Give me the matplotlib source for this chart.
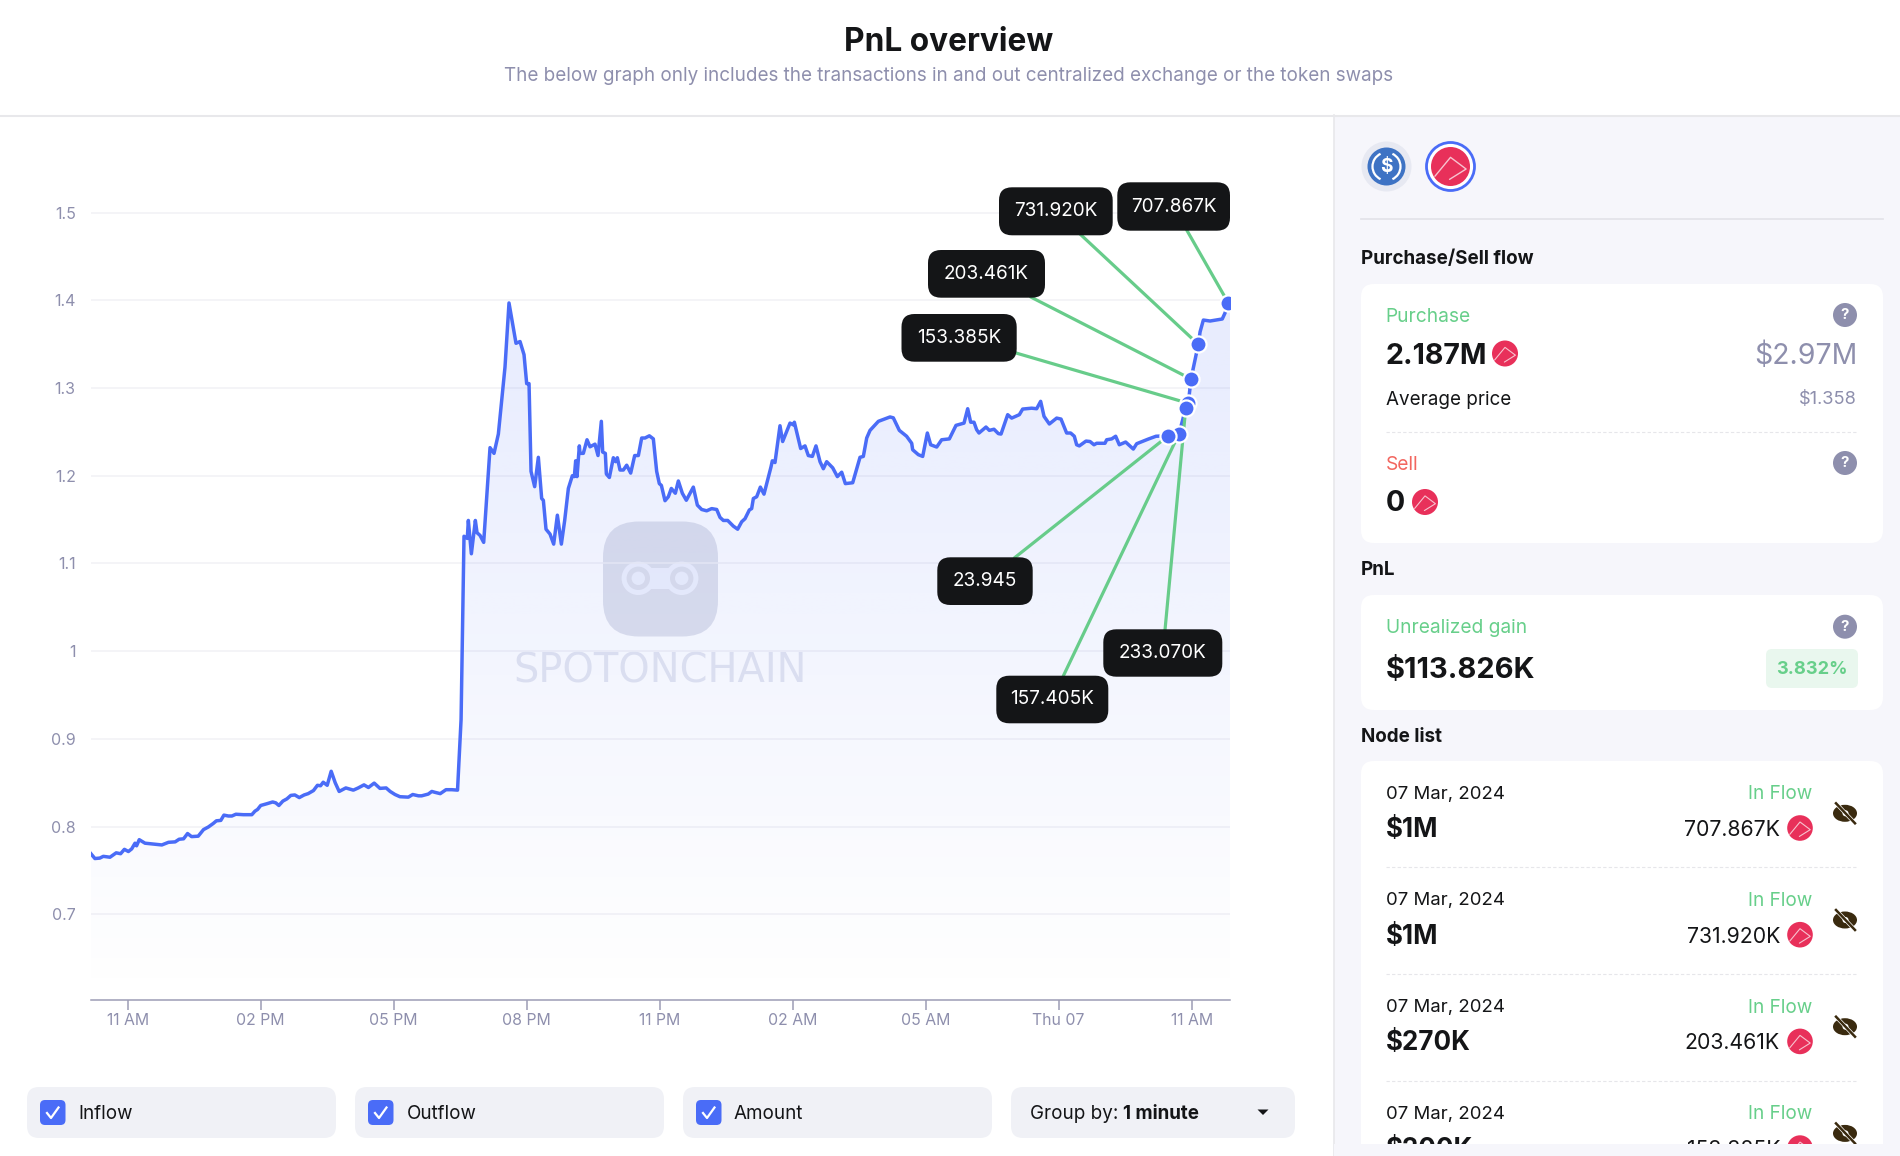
import numpy as np
import matplotlib
matplotlib.use("Agg")
import matplotlib.pyplot as plt
from matplotlib.patches import FancyBboxPatch, Circle, Rectangle, Arc, Ellipse, ConnectionPatch, Polygon

plt.rcParams['font.family'] = ['Inter', 'DejaVu Sans']

# ---------- data (hours counted from 11 AM on the first day, price in USD) ----------
hours = [
 -0.83,-0.74,-0.63,-0.55,-0.40,-0.26,-0.16,-0.075,0.015,0.09,0.165,0.2,0.26,0.39,0.58,0.77,0.92,1.07,1.16,1.26,
 1.35,1.44,1.59,1.71,1.82,1.93,2.0,2.1,2.17,2.27,2.35,2.44,2.61,2.8,2.87,2.93,3.0,3.14,3.27,3.34,
 3.41,3.5,3.59,3.68,3.77,3.87,3.98,4.07,4.19,4.28,4.35,4.41,4.5,4.59,4.68,4.77,4.92,5.09,5.2,5.33,
 5.43,5.56,5.69,5.83,5.92,6.03,6.14,6.33,6.43,6.56,6.63,6.78,6.86,6.93,7.05,7.18,7.31,7.44,7.52,7.57,
 7.586,7.66,7.684,7.752,7.842,7.88,7.947,8.03,8.173,8.263,8.361,8.436,8.511,8.601,8.759,8.85,8.94,9.0,9.053,9.098,
 9.18,9.263,9.338,9.376,9.436,9.526,9.609,9.692,9.782,9.857,9.94,10.03,10.075,10.105,10.135,10.188,10.203,10.278,10.361,10.429,
 10.541,10.609,10.684,10.714,10.774,10.797,10.865,10.955,11.008,11.045,11.105,11.18,11.256,11.346,11.436,11.519,11.594,11.669,11.767,11.857,
 11.932,11.992,12.038,12.12,12.195,12.263,12.353,12.421,12.511,12.601,12.759,12.85,12.947,13.06,13.173,13.286,13.361,13.436,13.534,13.662,
 13.759,13.85,13.925,14.023,14.075,14.113,14.188,14.271,14.353,14.511,14.541,14.601,14.714,14.774,14.94,15.015,15.038,15.18,15.278,15.353,
 15.444,15.526,15.617,15.692,15.767,15.903,16.008,16.106,16.188,16.354,16.519,16.594,16.67,16.745,16.933,17.196,17.27,17.406,17.57,17.685,
 17.707,17.835,17.933,18.038,18.113,18.249,18.361,18.534,18.684,18.865,18.948,19.015,19.09,19.15,19.203,19.361,19.436,19.541,19.64,19.7,
 19.85,19.94,20.113,20.188,20.39,20.504,20.594,20.67,20.79,20.955,21.053,21.18,21.27,21.353,21.406,21.466,21.617,21.707,21.797,21.857,
 22.045,22.083,22.196,22.286,22.368,22.511,22.684,22.76,23.023,23.196,23.474,23.715,23.866,23.925,23.985,24.15,24.19,24.264,24.415,24.69,
 24.752,24.827,24.865]
price = [
 .769,.7635,.764,.766,.765,.770,.769,.774,.7715,.7745,.781,.778,.785,.781,.780,.779,.782,.7825,.7855,.786,
 .792,.7885,.789,.7965,.7995,.8035,.8065,.807,.813,.812,.812,.814,.8135,.8135,.8175,.8195,.824,.826,.828,.827,
 .824,.829,.8315,.8355,.836,.833,.836,.8375,.841,.847,.8465,.8505,.847,.863,.85,.840,.844,.8415,.844,.8475,
 .8445,.8495,.8435,.844,.840,.8365,.834,.8335,.8365,.835,.835,.837,.840,.839,.8375,.842,.842,.8415,.922,1.081,
 1.131,1.1285,1.149,1.111,1.149,1.135,1.132,1.124,1.232,1.2255,1.2475,1.286,1.324,1.397,1.351,1.353,1.338,1.305,1.305,1.205,
 1.1875,1.221,1.174,1.172,1.139,1.1335,1.122,1.155,1.122,1.149,1.1855,1.2,1.199,1.217,1.199,1.234,1.2255,1.2255,1.241,1.233,
 1.236,1.223,1.262,1.227,1.2255,1.202,1.198,1.2205,1.216,1.2205,1.2065,1.2065,1.212,1.203,1.223,1.223,1.243,1.243,1.2455,1.242,
 1.205,1.191,1.189,1.1715,1.176,1.1855,1.18,1.194,1.18,1.172,1.187,1.1665,1.1615,1.16,1.1625,1.1615,1.1525,1.149,1.149,1.1425,
 1.139,1.1475,1.151,1.161,1.1625,1.174,1.176,1.187,1.179,1.21,1.217,1.215,1.257,1.239,1.26,1.258,1.261,1.231,1.234,1.223,
 1.222,1.234,1.216,1.208,1.216,1.209,1.199,1.204,1.191,1.192,1.221,1.222,1.243,1.2517,1.262,1.267,1.266,1.2517,1.245,1.237,
 1.2296,1.224,1.222,1.2487,1.2353,1.2327,1.241,1.242,1.2574,1.26,1.2764,1.261,1.261,1.2525,1.2487,1.2555,1.2517,1.253,1.248,1.2475,
 1.2696,1.2657,1.2696,1.276,1.277,1.2764,1.2848,1.2677,1.259,1.2657,1.2646,1.2487,1.2487,1.245,1.2353,1.234,1.2395,1.239,1.2353,1.237,
 1.237,1.241,1.242,1.245,1.2353,1.2384,1.2304,1.2365,1.2418,1.245,1.2456,1.2479,1.2769,1.2826,1.3103,1.3498,1.364,1.3775,1.3764,1.3787,
 1.3855,1.397,1.397]

y_ticks = [0.7, 0.8, 0.9, 1.0, 1.1, 1.2, 1.3, 1.4, 1.5]
y_labels = ['0.7', '0.8', '0.9', '1', '1.1', '1.2', '1.3', '1.4', '1.5']
x_ticks = [0, 3, 6, 9, 12, 15, 18, 21, 24]
x_labels = ['11 AM', '02 PM', '05 PM', '08 PM', '11 PM', '02 AM', '05 AM', 'Thu 07', '11 AM']

node_hours = [24.827, 24.15, 23.985, 23.925, 23.866, 23.715, 23.474]
node_prices = [1.397, 1.3498, 1.3103, 1.2826, 1.2769, 1.2479, 1.2456]
node_labels = ['707.867K', '731.920K', '203.461K', '153.385K', '233.070K', '157.405K', '23.945']

list_dates = ['07 Mar, 2024'] * 4
list_usd = ['$1M', '$1M', '$270K', '$200K']
list_amounts = ['707.867K', '731.920K', '203.461K', '153.385K']

# ---------- style ----------
W, H = 1900, 1156
BLUE = '#4A6CF7'
INK = '#141517'
GREY = '#8E8FAD'
GREEN = '#67CF8A'
SOFT = '#F6F6FB'
PX = 0.72

fig = plt.figure(figsize=(W / 100, H / 100), dpi=100, facecolor='white')

bg = fig.add_axes([0, 0, 1, 1], zorder=0)
bg.set_xlim(0, W); bg.set_ylim(H, 0); bg.axis('off')


def T(a, x, y, s, size, color=INK, weight='normal', ha='left', z=5, family=None):
    kw = {'family': family} if family else {}
    return a.text(x, y + 2, s, fontsize=size * PX, color=color, fontweight=weight, ha=ha,
                  va='center', zorder=z, **kw)


def RR(a, x0, y0, x1, y1, r, color, z=2, ec='none'):
    p = FancyBboxPatch((x0 + r, y0 + r), x1 - x0 - 2 * r, y1 - y0 - 2 * r,
                       boxstyle=f'round,pad={r},rounding_size={r}',
                       fc=color, ec=ec, lw=0, zorder=z)
    a.add_patch(p)
    return p


def red_icon(cx, cy, r, z=4):
    bg.add_patch(Circle((cx, cy), r, fc='#E8305A', ec='none', zorder=z))
    k = [(-0.80, 0.50), (0.0, -0.47), (0.80, 0.13), (-0.05, 0.66)]
    bg.plot([cx + a * r for a, _ in k], [cy + b * r for _, b in k], color='#F7C3CF',
            lw=1.0 if r > 15 else 0.8, zorder=z + 1, solid_capstyle='round')


def help_icon(cx, cy):
    bg.add_patch(Circle((cx, cy), 12, fc=GREY, ec='none', zorder=4))
    T(bg, cx, cy - 2, '?', 15, 'white', 'bold', ha='center')


def eye_icon(cx, cy):
    c = '#3A2A0F'
    bg.add_patch(Ellipse((cx, cy), 24, 17, fc=c, ec='none', zorder=4))
    bg.add_patch(Circle((cx + 0.5, cy), 3.0, fc='white', ec='none', zorder=5))
    bg.plot([cx - 9, cx + 10], [cy - 10, cy + 10], color='white', lw=2.8, zorder=6)
    bg.plot([cx - 9, cx + 10], [cy - 10, cy + 10], color=c, lw=1.8, zorder=7)


# page frame
bg.add_patch(Rectangle((1334, 115), W - 1334, H - 115, fc=SOFT, ec='none', zorder=1))
bg.plot([0, W], [115.5, 115.5], color='#E8E8EB', lw=1.5, zorder=1.5)
bg.plot([1333.5, 1333.5], [115, H], color='#E8E8EB', lw=1.2, zorder=1.5)
T(bg, 949, 40.5, 'PnL overview', 31.6, INK, 'bold', ha='center')
T(bg, 949, 74, 'The below graph only includes the transactions in and out centralized exchange or the token swaps',
  18.85, GREY, ha='center')

# watermark
RR(bg, 603, 521.5, 718, 636.5, 36, '#E0E2EC', z=1)
LIGHT = '#F1F3FC'
for cx in (638.3, 681.7):
    bg.add_patch(Circle((cx, 578.3), 16.7, fc=LIGHT, ec='none', zorder=1.1))
bg.add_patch(Rectangle((638, 567.5), 44, 21.5, fc=LIGHT, ec='none', zorder=1.1))
for cx in (638.3, 681.7):
    bg.add_patch(Circle((cx, 578.3), 11.7, fc='#E0E2EC', ec='none', zorder=1.2))
    bg.add_patch(Circle((cx, 578.3), 6.7, fc=LIGHT, ec='none', zorder=1.3))
T(bg, 660.5, 669.5, 'SPOTONCHAIN', 40, '#E4E6F0', 'normal', ha='center', z=1, family='DejaVu Sans')

# right panel head
cx, cy = 1386.5, 166.5
bg.add_patch(Circle((cx, cy), 25, fc='#E7E9F2', ec='none', zorder=3))
bg.add_patch(Circle((cx, cy), 19, fc='#3E73C4', ec='none', zorder=4))
bg.add_patch(Arc((cx, cy), 28, 28, theta1=115, theta2=245, color='white', lw=1.6, zorder=5))
bg.add_patch(Arc((cx, cy), 28, 28, theta1=-65, theta2=65, color='white', lw=1.6, zorder=5))
T(bg, cx, cy - 2, '$', 19, 'white', 'bold', ha='center')
bg.add_patch(Circle((1450.5, 166.5), 24, fc='white', ec=BLUE, lw=2, zorder=3))
red_icon(1450.5, 166.5, 19.5)
bg.plot([1361, 1883], [219, 219], color='#E4E4EA', lw=1.3, zorder=2)

LX = 1385.5
T(bg, 1361, 257, 'Purchase/Sell flow', 18.8, INK, 'bold')
RR(bg, 1361, 284, 1883, 543, 13, 'white')
T(bg, LX, 315, 'Purchase', 19.2, GREEN)
help_icon(1845, 315)
T(bg, LX, 354, '2.187M', 28.6, INK, 'bold')
red_icon(1505, 353.5, 13)
T(bg, 1857, 354, '$2.97M', 28.4, GREY, ha='right')
T(bg, LX, 398, 'Average price', 18.8, INK)
T(bg, 1857, 398, '$1.358', 18.2, GREY, ha='right')
bg.plot([1386, 1858], [431.7, 431.7], color='#E6E6EA', lw=0.8, ls=(0, (3, 2)), zorder=3)
T(bg, LX, 463, 'Sell', 19.2, '#F2665F')
help_icon(1845, 463)
T(bg, LX, 501.5, '0', 28.6, INK, 'bold')
red_icon(1425, 502, 13)

T(bg, 1361, 568, 'PnL', 18.8, INK, 'bold')
RR(bg, 1361, 595, 1883, 710, 13, 'white')
T(bg, LX, 626, 'Unrealized gain', 19.2, GREEN)
help_icon(1845, 626.7)
T(bg, LX, 668.5, '$113.826K', 29, INK, 'bold')
RR(bg, 1766, 649, 1858, 688, 6, '#E9F7EE', z=3)
T(bg, 1812, 668, '3.832%', 18.2, GREEN, 'bold', ha='center')

T(bg, 1361, 735, 'Node list', 18.8, INK, 'bold')
RR(bg, 1361, 761, 1883, 1170, 13, 'white')
for i in range(4):
    dy = i * 106.7
    T(bg, LX, 792.3 + dy, list_dates[i], 18.6, INK)
    T(bg, 1812.5, 792.3 + dy, 'In Flow', 19, GREEN, ha='right')
    T(bg, LX, 828 + dy, list_usd[i], 26, INK, 'bold')
    T(bg, 1780, 828 + dy, list_amounts[i], 21.2, INK, ha='right')
    red_icon(1800, 828 + dy, 12.8)
    eye_icon(1845, 813.3 + dy)
    if i < 3:
        bg.plot([1386, 1858], [867.3 + dy, 867.3 + dy], color='#E6E6EA', lw=0.8, ls=(0, (3, 2)), zorder=3)
bg.add_patch(Rectangle((1334, 1144), W - 1334, 12, fc=SOFT, ec='none', zorder=20))

# controls
for x0, x1, tx, lab in ((27, 336, 78.5, 'Inflow'), (355, 664, 407, 'Outflow'), (683, 992, 734, 'Amount')):
    RR(bg, x0, 1087, x1, 1138, 12, '#F0F1F6')
    b = x0 + 13
    RR(bg, b, 1100, b + 25.5, 1125, 5, BLUE, z=3)
    bg.plot([b + 7, b + 11, b + 18.5], [1113, 1118, 1107.5], color='white', lw=1.6, zorder=4)
    T(bg, tx, 1112, lab, 18.8, INK)
RR(bg, 1011, 1087, 1295, 1138, 12, '#F0F1F6')
T(bg, 1030, 1112, 'Group by:', 18.8, INK)
T(bg, 1123, 1112, '1 minute', 18.8, INK, 'bold')
bg.add_patch(Polygon([(1257.5, 1109.5), (1268.5, 1109.5), (1263, 1115)], fc=INK, ec='none', zorder=4))

# ---------- chart ----------
AL, AR, AT, AB = 91, 1230, 212, 1000
ax = fig.add_axes([AL / W, 1 - AB / H, (AR - AL) / W, (AB - AT) / H], zorder=1)
ax.patch.set_alpha(0)
ax.set_xlim(-0.828, 24.865)
ax.set_ylim(0.6022, 1.5007)

ax.set_yticks(y_ticks, y_labels)
ax.set_xticks(x_ticks, x_labels)
ax.grid(axis='y', color='#F1F1F5', lw=1.1)
ax.set_axisbelow(True)
for s in ('top', 'left', 'right'):
    ax.spines[s].set_visible(False)
ax.spines['bottom'].set_color('#9D9DB5')
ax.spines['bottom'].set_linewidth(1.1)
ax.tick_params(axis='y', length=0, pad=11, labelsize=16 * PX, labelcolor=GREY)
ax.tick_params(axis='x', length=7, width=1.1, color='#9D9DB5', pad=2.6, labelsize=15.8 * PX, labelcolor=GREY)

area = ax.fill_between(hours, price, 0.6022, facecolor='none', edgecolor='none', zorder=1.5)
shade = np.zeros((256, 2, 4))
shade[..., 0], shade[..., 1], shade[..., 2] = 0x4A / 255, 0x6C / 255, 0xF7 / 255
shade[..., 3] = np.linspace(0.135, 0.0, 256)[:, None]
im = ax.imshow(shade, extent=(-0.828, 24.865, 0.6022, 1.4), origin='upper', aspect='auto', zorder=1.6)
im.set_clip_path(area.get_paths()[0], transform=ax.transData)
ax.set_xlim(-0.828, 24.865)
ax.set_ylim(0.6022, 1.5007)

ax.plot(hours, price, color=BLUE, lw=2.5, zorder=3, solid_joinstyle='round')
# overlap order: the earlier nodes sit above the later ones
for i, (nh, np_) in enumerate(zip(node_hours, node_prices)):
    ax.plot([nh], [np_], ls='none', marker='o', ms=11.6, mfc=BLUE, mec='white', mew=1.6, zorder=6 + i * 0.01)

# ---------- node tags ----------
ov = fig.add_axes([0, 0, 1, 1], zorder=2)
ov.set_xlim(0, W); ov.set_ylim(H, 0); ov.axis('off'); ov.patch.set_alpha(0)

tag_boxes = [(1117.3, 182.3, 1230, 230.7), (999, 187.3, 1112.7, 235.3), (928, 250, 1045, 297.7),
             (901.5, 314, 1016.7, 361.7), (1103.3, 629.3, 1222.3, 676.7), (996.3, 675.7, 1108.3, 723.3),
             (937.3, 557.3, 1032.7, 605)]
tag_anchor = [(1186.7, 230), (1080, 234), (1030.7, 297), (1016, 353), (1165, 630), (1063.3, 676), (1014.3, 558)]
for i, lab in enumerate(node_labels):
    con = ConnectionPatch(xyA=(node_hours[i], node_prices[i]), coordsA=ax.transData,
                          xyB=tag_anchor[i], coordsB=ov.transData, color='#67CC8A', lw=2.3,
                          shrinkA=0, shrinkB=0, zorder=5, clip_on=False)
    ax.add_artist(con)
    x0, y0, x1, y1 = tag_boxes[i]
    RR(ov, x0, y0, x1, y1, 13, INK, z=8)
    T(ov, (x0 + x1) / 2, (y0 + y1) / 2 - 2, lab, 19, 'white', ha='center', z=9)

fig.savefig('out.png', dpi=100, facecolor='white')
